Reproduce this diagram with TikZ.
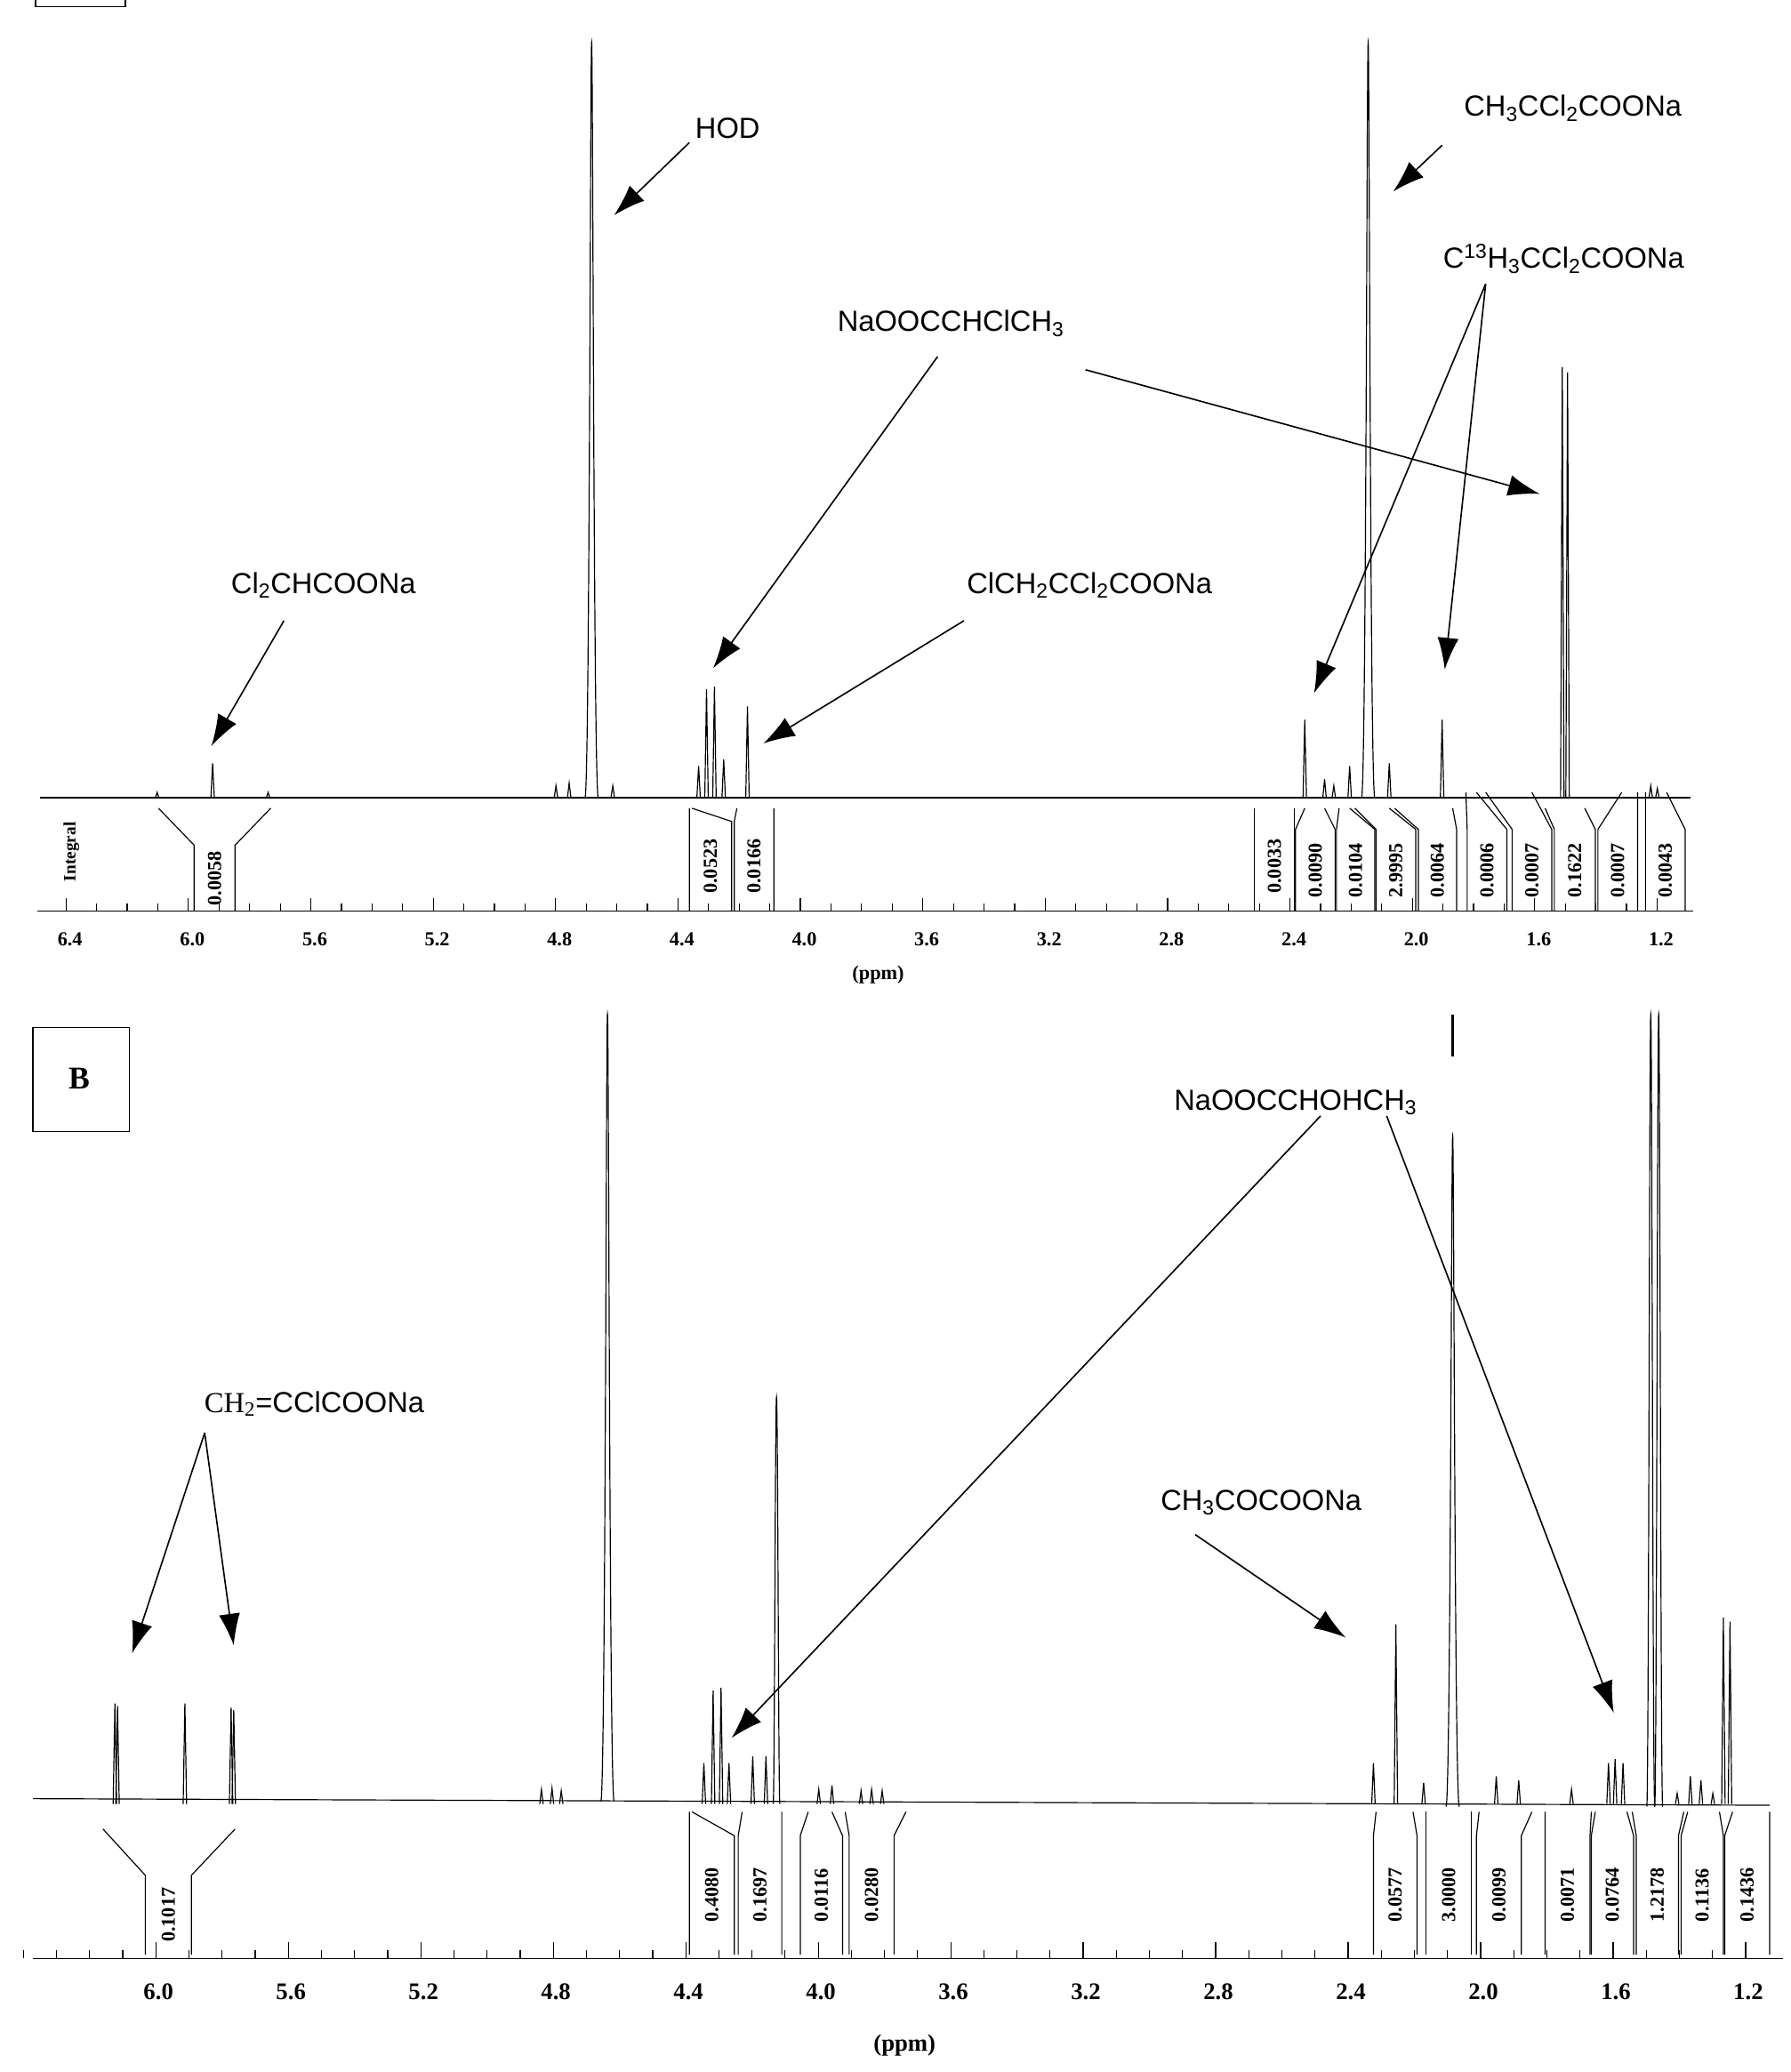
\documentclass[tikz,border=0pt]{standalone}
\usepackage{fontspec}
\setmainfont{Liberation Serif}
\setsansfont{Liberation Sans}
\usetikzlibrary{arrows.meta}
\tikzset{
 lab/.style={font=\sffamily\fontsize{22}{24}\selectfont,inner sep=1pt},
 arr/.style={line width=1.1pt,-{Latex[length=24pt,width=16pt]}},
 spec/.style={line width=0.8pt},
 ax/.style={font=\bfseries\fontsize{15}{17}\selectfont},
 ig/.style={font=\bfseries\fontsize{15}{17}\selectfont,rotate=90},
}
\newcommand{\sub}[1]{\textsubscript{#1}}
\newcommand{\pk}[3]{\draw[spec] (#1-1.3,#3) -- (#1,#2) -- (#1+1.3,#3);}
\newcommand{\bpk}[4]{\draw[spec] (#1-#4,#3) .. controls (#1-1.5,#3-4) and (#1-1,#2) .. (#1,#2) .. controls (#1+1,#2) and (#1+1.5,#3-4) .. (#1+#4,#3);}
\newcommand{\intg}[8]{\draw[line width=0.8pt] (#1,#5) -- (#3,#6) -- (#3,#7) (#2,#5) -- (#4,#6) -- (#4,#7);
 \node[ig] at ({(#3+#4)/2},{(#6+#7)/2}) {#8};}
\begin{document}
\begin{tikzpicture}[x=1pt,y=-1pt]
\useasboundingbox (0,0) rectangle (1356,1569);
% ===== Panel A =====
\draw[line width=1pt] (27,-5) rectangle (95,5);
\draw[spec] (30,604) -- (1280,604);
\foreach \x/\t in {119/600,161/578,203/600,421/595,431/593,464/595,529/580,535/522,541/520,548/575,566/535,988/545,1003/590,1010/595,1022/580,1052/578,1092/545,1183/278,1187/282,1250/595,1255/597}{\pk{\x}{\t}{604}}
\bpk{448}{32}{604}{5}
\bpk{1036}{32}{604}{5}
% axis A
\draw[line width=1pt] (28,690) -- (1282,690);
\foreach \i in {0,...,52}{\pgfmathsetmacro\xx{50+23.17*\i}\draw[line width=0.8pt] (\xx,690) -- (\xx,684);}
\foreach \i/\l in {0/6.4,1/6.0,2/5.6,3/5.2,4/4.8,5/4.4,6/4.0,7/3.6,8/3.2,9/2.8,10/2.4,11/2.0,12/1.6,13/1.2}{\pgfmathsetmacro\xx{50+92.68*\i}\draw[line width=0.8pt] (\xx,690) -- (\xx,680); \node[ax] at (\xx+3,711) {\l};}
\node[ax] at (665,738) {(ppm)};
\node[ig,font=\bfseries\fontsize{13}{15}\selectfont] at (54,645) {Integral};
\intg{120}{205}{147}{178}{612}{640}{690}{0.0058}
\intg{522}{524}{522}{554}{612}{622}{690}{0.0523}
\intg{558}{586}{556}{586}{612}{622}{690}{0.0166}
\intg{950}{980}{950}{980}{612}{622}{690}{0.0033}
\intg{988}{1003}{981}{1011}{612}{628}{690}{0.0090}
\intg{1014}{1022}{1012}{1041}{612}{628}{690}{0.0104}
\intg{1026}{1052}{1042}{1072}{612}{628}{690}{2.9995}
\intg{1056}{1100}{1074}{1103}{612}{628}{690}{0.0064}
\intg{1110}{1118}{1111}{1141}{600}{628}{690}{0.0006}
\intg{1125}{1160}{1145}{1175}{600}{628}{690}{0.0007}
\intg{1170}{1200}{1177}{1208}{612}{628}{690}{0.1622}
\intg{1228}{1240}{1210}{1240}{600}{628}{690}{0.0007}
\intg{1246}{1262}{1246}{1276}{600}{628}{690}{0.0043}
% labels A
\node[lab] (hod) at (551,97) {HOD};
\draw[arr] (522,108) -- (465,163);
\node[lab] (a1) at (1191,82) {CH\sub{3}CCl\sub{2}COONa};
\draw[arr] (1092,110) -- (1055,145);
\node[lab] (a2) at (1184,196) {C\textsuperscript{13}H\sub{3}CCl\sub{2}COONa};
\coordinate (a2s) at (1125,215);
\draw[arr] (a2s) -- (995,525);
\draw[arr] (a2s) -- (1094,507);
\node[lab] (a3) at (720,245) {NaOOCCHClCH\sub{3}};
\draw[arr] (822,280) -- (1166,374);
\draw[arr] (710,270) -- (540,506);
\node[lab] (a4) at (825,443) {ClCH\sub{2}CCl\sub{2}COONa};
\draw[arr] (730,470) -- (578,563);
\node[lab] (a5) at (245,443) {Cl\sub{2}CHCOONa};
\draw[arr] (215,470) -- (160,565);
% ===== Panel B =====
\draw[line width=1pt] (25,778) rectangle (98,857);
\node[font=\bfseries\fontsize{24}{26}\selectfont] (B) at (60,817) {B};
\draw[spec] (25,1362) -- (1340,1367);
\foreach \x/\t in {87/1290,89/1292,140/1290,175/1293,177/1295,410/1355,418/1354,425/1356,533/1335,540/1280,546/1278,552/1335,570/1330,580/1330,620/1355,630/1352,652/1356,660/1355,668/1356,1040/1335,1057/1230,1078/1350,1133/1345,1150/1348,1190/1355,1218/1335,1223/1332,1229/1335,1270/1358,1280/1345,1288/1348,1297/1358,1305/1225,1310/1228}{\pk{\x}{\t}{1366}}
\bpk{588}{1058}{1366}{2.5}
\bpk{460}{768}{1364}{5}
\bpk{1100}{860}{1368}{5}
\bpk{1250}{768}{1368}{3}
\bpk{1256}{768}{1368}{3}
\draw[line width=2.5pt] (1100,768) -- (1100,800);
% axis B
\draw[line width=1pt] (25,1483) -- (1350,1483);
\foreach \i in {-5,...,48}{\pgfmathsetmacro\xx{118+25.08*\i}\draw[line width=0.8pt] (\xx,1483) -- (\xx,1477);}
\foreach \i/\l in {0/6.0,1/5.6,2/5.2,3/4.8,4/4.4,5/4.0,6/3.6,7/3.2,8/2.8,9/2.4,10/2.0,11/1.6,12/1.2}{\pgfmathsetmacro\xx{118+100.32*\i}\draw[line width=0.8pt] (\xx,1483) -- (\xx,1471); \node[ax,font=\bfseries\fontsize{18}{20}\selectfont] at (\xx+2,1508) {\l};}
\node[font=\bfseries\fontsize{18}{20}\selectfont] at (685,1549) {(ppm)};
\intg{78}{178}{110}{145}{1385}{1420}{1480}{0.1017}
\intg{522}{524}{522}{556}{1372}{1390}{1480}{0.4080}
\intg{562}{592}{559}{592}{1372}{1390}{1480}{0.1697}
\intg{612}{630}{606}{638}{1372}{1390}{1480}{0.0116}
\intg{640}{686}{643}{677}{1372}{1390}{1480}{0.0280}
\intg{1042}{1070}{1040}{1073}{1372}{1390}{1480}{0.0577}
\intg{1080}{1114}{1080}{1114}{1372}{1390}{1480}{3.0000}
\intg{1120}{1160}{1118}{1152}{1372}{1390}{1480}{0.0099}
\intg{1170}{1205}{1170}{1204}{1372}{1390}{1480}{0.0071}
\intg{1208}{1232}{1205}{1237}{1372}{1390}{1480}{0.0764}
\intg{1236}{1275}{1239}{1271}{1372}{1390}{1480}{1.2178}
\intg{1278}{1302}{1273}{1305}{1372}{1390}{1480}{0.1136}
\intg{1312}{1340}{1306}{1340}{1372}{1390}{1480}{0.1436}
% labels B
\node[lab] (b1) at (981,835) {NaOOCCHOHCH\sub{3}};
\draw[arr] (1000,845) -- (554,1316);
\draw[arr] (1050,845) -- (1222,1297);
\node[lab] (b2) at (238,1063) {{\rmfamily CH\sub{2}}=CClCOONa};
\coordinate (b2s) at (155,1085);
\draw[arr] (b2s) -- (100,1252);
\draw[arr] (b2s) -- (177,1246);
\node[lab] (b3) at (955,1138) {CH\sub{3}COCOONa};
\draw[arr] (905,1162) -- (1019,1240);
\end{tikzpicture}
\end{document}
